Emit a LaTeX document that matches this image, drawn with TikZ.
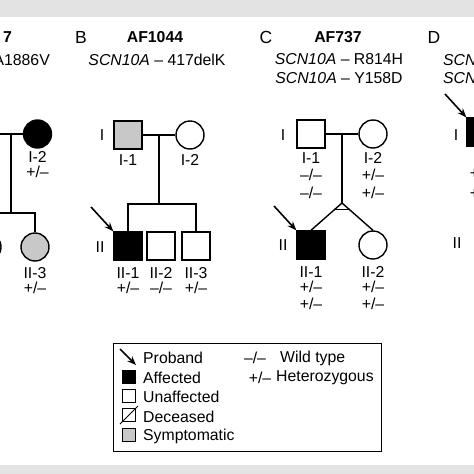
\documentclass[tikz,border=0pt]{standalone}
\usepackage{fontspec}
\setmainfont{Liberation Sans}
\usetikzlibrary{calc,arrows.meta}

\definecolor{bandgray}{RGB}{227,227,227}
\definecolor{symgray}{RGB}{200,200,200}

\tikzset{
  male/.style={draw, rectangle, minimum size=28pt, inner sep=0pt, line width=1.4pt},
  female/.style={draw, circle, minimum size=28pt, inner sep=0pt, line width=1.4pt},
  aff/.style={fill=black},
  sym/.style={fill=symgray},
  txt/.style={inner sep=0pt, font=\fontsize{15.8}{17}\selectfont},
  title/.style={inner sep=0pt, font=\bfseries\fontsize{15.8}{17}\selectfont},
  panel/.style={inner sep=0pt, font=\fontsize{17.5}{19}\selectfont},
  line/.style={line width=1.4pt},
  proband/.style={line width=1.6pt, -{Stealth[length=9pt,width=7pt]}},
  key/.style={draw, rectangle, minimum size=13pt, inner sep=0pt, line width=1pt}
}

\begin{document}
\begin{tikzpicture}[x=1pt, y=-1pt]
	\useasboundingbox (0,0) rectangle (474,474);
	\clip (0,0) rectangle (474,474);
	\fill[bandgray] (0,0) rectangle (474,17);
	\fill[bandgray] (0,465) rectangle (474,474);
	
	% A
	\node[title, anchor=east] (atitle) at (12,37) {7};
	\node[txt, anchor=east] (amut) at (50,60) {A1886V};
	\node[female, aff] (aI2) at (37.5,134) {};
	\node[female] (aII2) at (-13,247) {};
	\node[female, sym] (aII3) at (35,247) {};
	\coordinate (aleft) at (-5,134);
	\coordinate (acpl) at (11,134);
	\coordinate (asib) at (11,213);
	\coordinate (asib0) at (-5,213);
	\coordinate (asib3) at (35,213);
	\draw[line] (aleft) -- (aI2);
	\draw[line] (acpl) -- (asib);
	\draw[line] (asib0) -- (asib3) -- (aII3);
	\node[txt] (aI2n) at (37.5,157) {I-2};
	\node[txt] (aI2g) at (37.5,172) {+/--};
	\node[txt] (aII3n) at (35,273) {II-3};
	\node[txt] (aII3g) at (35,288) {+/--};
	
	% B
	\node[panel] (blabel) at (81,37) {B};
	\node[title] (btitle) at (155,37) {AF1044};
	\node[txt] (bmut) at (157,60) {\textit{SCN10A} -- 417delK};
	\node[txt] (bgenI) at (102,135) {I};
	\node[txt] (bgenII) at (100,247) {II};
	\node[male, sym] (bI1) at (128,135) {};
	\node[female] (bI2) at (190,135) {};
	\node[male, aff] (bII1) at (128,246) {};
	\node[male] (bII2) at (161,246) {};
	\node[male] (bII3) at (196,246) {};
	\coordinate (bcpl) at (159,135);
	\coordinate (bsib) at (159,204);
	\coordinate (bsib1) at (128,204);
	\coordinate (bsib3) at (196,204);
	\coordinate (barr) at (91,207);
	\draw[line] (bI1) -- (bI2);
	\draw[line] (bcpl) -- (bsib);
	\draw[line] (bII1) -- (bsib1) -- (bsib3) -- (bII3);
	\draw[proband] (barr) -- (bII1.north west);
	\node[txt] (bI1n) at (128,160) {I-1};
	\node[txt] (bI2n) at (190,160) {I-2};
	\node[txt] (bII1n) at (128,273) {II-1};
	\node[txt] (bII2n) at (161,273) {II-2};
	\node[txt] (bII3n) at (196,273) {II-3};
	\node[txt] (bII1g) at (128,288) {+/--};
	\node[txt] (bII2g) at (161,288) {--/--};
	\node[txt] (bII3g) at (196,288) {+/--};
	
	% C
	\node[panel] (clabel) at (266,37) {C};
	\node[title] (ctitle) at (338,37) {AF737};
	\node[txt] (cmut1) at (339,59) {\textit{SCN10A} -- R814H};
	\node[txt] (cmut2) at (339,78) {\textit{SCN10A} -- Y158D};
	\node[txt] (cgenI) at (283,135) {I};
	\node[txt] (cgenII) at (283,245) {II};
	\node[male] (cI1) at (311,134) {};
	\node[female] (cI2) at (373,134) {};
	\node[male, aff] (cII1) at (311,245) {};
	\node[female] (cII2) at (373,245) {};
	\coordinate (ccpl) at (342,134);
	\coordinate (capex) at (342,203);
	\coordinate (carr) at (274,206);
	\draw[line] (cI1) -- (cI2);
	\draw[line] (ccpl) -- (capex);
	\draw[line] (cII1.north) -- (capex) -- (cII2.north);
	\draw[line, line width=0.8pt] ($(capex)!0.25!(cII1.north)$) -- ($(capex)!0.25!(cII2.north)$);
	\draw[proband] (carr) -- (cII1.north west);
	\node[txt] (cI1n) at (311,158) {I-1};
	\node[txt] (cI1g1) at (311,175) {--/--};
	\node[txt] (cI1g2) at (311,193) {--/--};
	\node[txt] (cI2n) at (373,158) {I-2};
	\node[txt] (cI2g1) at (373,175) {+/--};
	\node[txt] (cI2g2) at (373,193) {+/--};
	\node[txt] (cII1n) at (311,272) {II-1};
	\node[txt] (cII1g1) at (311,287) {+/--};
	\node[txt] (cII1g2) at (311,304) {+/--};
	\node[txt] (cII2n) at (373,272) {II-2};
	\node[txt] (cII2g1) at (373,287) {+/--};
	\node[txt] (cII2g2) at (373,304) {+/--};
	
	% D
	\node[panel] (dlabel) at (434,37) {D};
	\node[txt, anchor=west] (dmut1) at (443,60) {\textit{SCN10A}};
	\node[txt, anchor=west] (dmut2) at (443,78) {\textit{SCN10A}};
	\node[txt] (dgenI) at (456,135) {I};
	\node[txt] (dgenII) at (457,243) {II};
	\node[male, aff] (dI1) at (481,132) {};
	\coordinate (darr) at (445,94);
	\draw[proband] (darr) -- (dI1.north west);
	\node[txt] (dI1g1) at (481,173) {+/--};
	\node[txt] (dI1g2) at (481,193) {+/--};
	
	% legend
	\node[draw, line width=1.2pt, minimum width=268pt, minimum height=108pt, inner sep=0pt, anchor=north west] (legend) at (113,343) {};
	\coordinate (lpa) at (120,349);
	\coordinate (lpb) at (136,365);
	\draw[proband] (lpa) -- (lpb);
	\node[key, aff] (laff) at (129,377) {};
	\node[key] (lunaff) at (129,396) {};
	\node[key] (ldec) at (129,415) {};
	\node[key, sym] (lsym) at (129,435) {};
	\draw[line width=1pt] ($(ldec.south west)+(-2,2)$) -- ($(ldec.north east)+(2,-2)$);
	\node[txt, anchor=west] (lpro) at (143,358) {Proband};
	\node[txt, anchor=west] (lafft) at (143,378) {Affected};
	\node[txt, anchor=west] (lunafft) at (143,397) {Unaffected};
	\node[txt, anchor=west] (ldect) at (143,417) {Deceased};
	\node[txt, anchor=west] (lsymt) at (143,436) {Symptomatic};
	\node[txt] (lwt) at (255,358) {--/--};
	\node[txt, anchor=west] (lwtt) at (280,358) {Wild type};
	\node[txt] (lhet) at (260,378) {+/--};
	\node[txt, anchor=west] (lhett) at (276,378) {Heterozygous};
\end{tikzpicture}
\end{document}
